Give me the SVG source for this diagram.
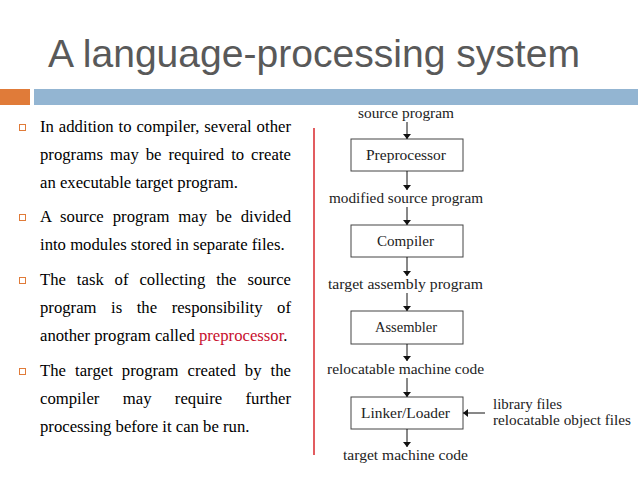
<svg xmlns="http://www.w3.org/2000/svg" width="638" height="478" viewBox="0 0 638 478">
<defs>
<style>
.title{font-size:39px;fill:#595959}
.body{font-size:16.7px;fill:#000}
.lbl{font-size:14px;fill:#222}
.box{fill:#fff;stroke:#444;stroke-width:1}
.bl{fill:none;stroke:#e07b39;stroke-width:1}
.con{stroke:#111;stroke-width:1;fill:none;marker-end:url(#ah)}
</style>
<marker id="ah" viewBox="0 0 10 10" refX="10" refY="5" markerWidth="5" markerHeight="8" markerUnits="userSpaceOnUse" orient="auto" preserveAspectRatio="none">
<path d="M0,0 L10,5 L0,10 Z" fill="#111"/>
</marker>
</defs>
<rect width="638" height="478" fill="#fff"/>
<text class="title" font-family="Liberation Sans" x="48" y="67" textLength="532" lengthAdjust="spacingAndGlyphs">A language-processing system</text>
<rect x="0" y="89" width="30" height="16" fill="#e07b39"/>
<rect x="34" y="89" width="604" height="16" fill="#93b5d2"/>
<line x1="314" y1="128" x2="314" y2="455" stroke="#d9262b" stroke-width="1.5"/>
<g id="bullets" font-family="Liberation Serif">
<rect class="bl" x="19.5" y="124.5" width="6" height="6"/>
<rect class="bl" x="19.5" y="214.5" width="6" height="6"/>
<rect class="bl" x="19.5" y="277.5" width="6" height="6"/>
<rect class="bl" x="19.5" y="368.5" width="6" height="6"/>
<text class="body" font-family="Liberation Serif" x="40" y="132" word-spacing="0.66" textLength="251" lengthAdjust="spacing">In addition to compiler, several other</text>
<text class="body" font-family="Liberation Serif" x="40" y="160" word-spacing="2.8" textLength="251" lengthAdjust="spacing">programs may be required to create</text>
<text class="body" font-family="Liberation Serif" x="40" y="188">an executable target program.</text>
<text class="body" font-family="Liberation Serif" x="40" y="222" word-spacing="4.65" textLength="251" lengthAdjust="spacing">A source program may be divided</text>
<text class="body" font-family="Liberation Serif" x="40" y="250">into modules stored in separate files.</text>
<text class="body" font-family="Liberation Serif" x="40" y="285" word-spacing="6.7" textLength="251" lengthAdjust="spacing">The task of collecting the source</text>
<text class="body" font-family="Liberation Serif" x="40" y="313" word-spacing="10.3" textLength="251" lengthAdjust="spacing">program is the responsibility of</text>
<text class="body" font-family="Liberation Serif" x="40" y="341">another program called <tspan fill="#c8102e">preprocessor</tspan>.</text>
<text class="body" font-family="Liberation Serif" x="40" y="376" word-spacing="4.85" textLength="251" lengthAdjust="spacing">The target program created by the</text>
<text class="body" font-family="Liberation Serif" x="40" y="404" word-spacing="19.2" textLength="251" lengthAdjust="spacing">compiler may require further</text>
<text class="body" font-family="Liberation Serif" x="40" y="432">processing before it can be run.</text>
</g>
<g id="labels" font-family="Liberation Serif">
<text class="lbl" font-family="Liberation Serif" x="358" y="118" textLength="96" lengthAdjust="spacingAndGlyphs">source program</text>
<text class="lbl" font-family="Liberation Serif" x="329" y="203" textLength="154" lengthAdjust="spacingAndGlyphs">modified source program</text>
<text class="lbl" font-family="Liberation Serif" x="328" y="289" textLength="155" lengthAdjust="spacingAndGlyphs">target assembly program</text>
<text class="lbl" font-family="Liberation Serif" x="327" y="374" textLength="157" lengthAdjust="spacingAndGlyphs">relocatable machine code</text>
<text class="lbl" font-family="Liberation Serif" x="343" y="460" textLength="125" lengthAdjust="spacingAndGlyphs">target machine code</text>
</g>
<g id="preprocessor"><rect class="box" x="351" y="139" width="112" height="32"/><text class="lbl" font-family="Liberation Serif" x="366" y="160" textLength="80" lengthAdjust="spacingAndGlyphs">Preprocessor</text></g>
<g id="compiler"><rect class="box" x="351" y="225" width="112" height="32"/><text class="lbl" font-family="Liberation Serif" x="377" y="246" textLength="57" lengthAdjust="spacingAndGlyphs">Compiler</text></g>
<g id="assembler"><rect class="box" x="351" y="311" width="112" height="33"/><text class="lbl" font-family="Liberation Serif" x="375" y="332" textLength="62" lengthAdjust="spacingAndGlyphs">Assembler</text></g>
<g id="linker"><rect class="box" x="351" y="397" width="112" height="32"/><text class="lbl" font-family="Liberation Serif" x="361" y="418" textLength="89" lengthAdjust="spacingAndGlyphs">Linker/Loader</text></g>
<g id="inputs"><text class="lbl" font-family="Liberation Serif" x="493" y="409" textLength="69" lengthAdjust="spacingAndGlyphs">library files</text><text class="lbl" font-family="Liberation Serif" x="493" y="425" textLength="138" lengthAdjust="spacingAndGlyphs">relocatable object files</text></g>
<g id="connectors">
<line class="con" x1="407" y1="122" x2="407" y2="139"/>
<line class="con" x1="407" y1="171" x2="407" y2="190"/>
<line class="con" x1="407" y1="207" x2="407" y2="225"/>
<line class="con" x1="407" y1="257" x2="407" y2="276"/>
<line class="con" x1="407" y1="293" x2="407" y2="311"/>
<line class="con" x1="407" y1="344" x2="407" y2="361"/>
<line class="con" x1="407" y1="378" x2="407" y2="397"/>
<line class="con" x1="407" y1="429" x2="407" y2="447"/>
<line class="con" x1="485" y1="413" x2="463" y2="413"/>
</g>
</svg>
